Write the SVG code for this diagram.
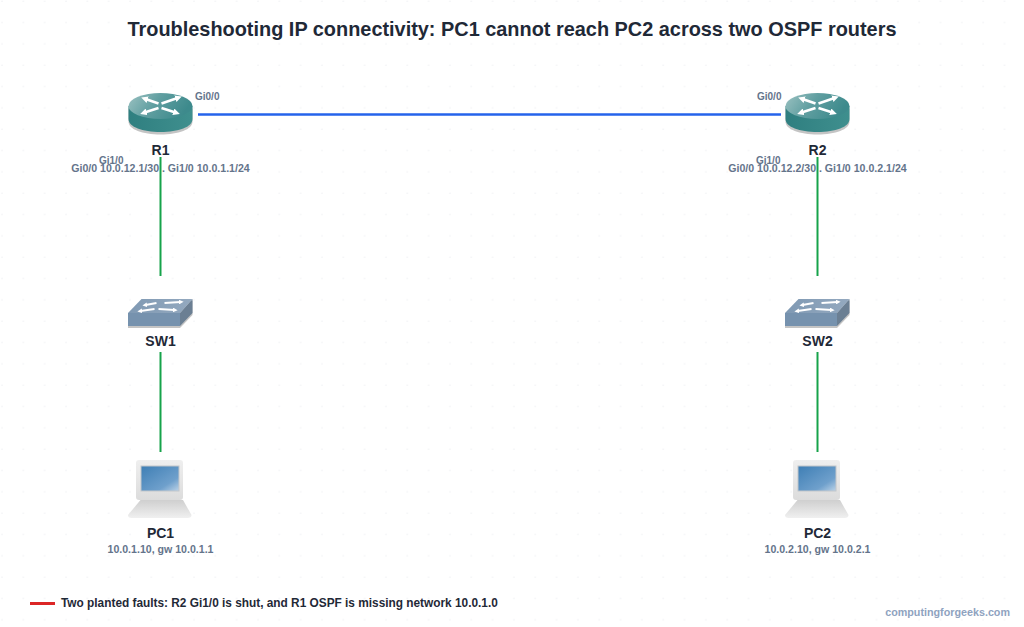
<svg xmlns="http://www.w3.org/2000/svg" width="1024" height="627" viewBox="0 0 1024 627">
<style>
text{font-family:"Liberation Sans",Arial,sans-serif}
.t{font-size:19.9px;font-weight:700;fill:#1f2937}
.n{font-size:14px;font-weight:700;fill:#1f2937;text-anchor:middle}
.s{font-size:10.6px;font-weight:700;fill:#64748b;text-anchor:middle}
.p{font-size:10px;font-weight:700;fill:#64748b}
.l{font-size:11.85px;font-weight:700;fill:#1f2937}
.blue{stroke:#2563eb;stroke-width:2.5;fill:none}
.green{stroke:#16a34a;stroke-width:2;fill:none}
</style>
<defs>
<pattern id="dots" width="21.33" height="21.33" patternUnits="userSpaceOnUse"><circle cx="2" cy="1.3" r="0.7" fill="#eef0f2"/></pattern>
<linearGradient id="rtop" x1="0" y1="0" x2="1" y2="0.3"><stop offset="0" stop-color="#9cc2c2"/><stop offset="0.5" stop-color="#5f9ea0"/><stop offset="1" stop-color="#3d8a8c"/></linearGradient>
<linearGradient id="rside" x1="0" y1="0" x2="1" y2="0"><stop offset="0" stop-color="#2f7f80"/><stop offset="1" stop-color="#3f8f8e"/></linearGradient>
<linearGradient id="swtop" x1="0" y1="0" x2="1" y2="0"><stop offset="0" stop-color="#7f99b3"/><stop offset="1" stop-color="#94a9bf"/></linearGradient>
<linearGradient id="scr" x1="0" y1="0" x2="1" y2="1"><stop offset="0" stop-color="#3f7fb5"/><stop offset="0.72" stop-color="#6fa0cc"/><stop offset="1" stop-color="#b8d0e6"/></linearGradient>
<linearGradient id="mon" x1="0" y1="0" x2="0" y2="1"><stop offset="0" stop-color="#efefef"/><stop offset="1" stop-color="#dcdcdc"/></linearGradient>
<linearGradient id="base" x1="0" y1="0" x2="0" y2="1"><stop offset="0" stop-color="#cfcfcf"/><stop offset="1" stop-color="#f0f0f0"/></linearGradient>
<marker id="wh" viewBox="0 0 6 6" refX="2" refY="3" markerWidth="2.6" markerHeight="2.6" orient="auto"><path d="M0 0L6 3L0 6Z" fill="#fff"/></marker>
<g id="router">
<path d="M-32 -9V4C-32 12 -18 17 0 17S32 12 32 4V-9Z" fill="#c4c4c4" transform="translate(0,2.500)"/>
<path d="M-32 -9V4C-32 12 -18 17 0 17S32 12 32 4V-9Z" fill="url(#rside)"/>
<ellipse cx="0" cy="-9" rx="32" ry="13" fill="url(#rtop)"/>
<g stroke="#fff" stroke-width="2.600" fill="none" marker-end="url(#wh)">
<path d="M-2 -11.500L-15 -16"/><path d="M1 -11.500L17 -17"/><path d="M-2 -7L-16 -2.500"/><path d="M1 -7L15 -2.500"/>
</g>
</g>
<g id="switch">
<path d="M-32.500 -6L-19 -20H32V-6L19.500 7H-32.500Z" fill="#c4c4c4" transform="translate(0,2)"/>
<path d="M-32.500 -6H19.500V7H-32.500Z" fill="#7692ae"/>
<path d="M19.500 -6L32 -20V-6L19.500 7Z" fill="#6b7f93"/>
<path d="M-32.500 -6L-19 -20H32L19.500 -6Z" fill="url(#swtop)"/>
<g stroke="#fff" stroke-width="1.800" fill="none" marker-end="url(#wh)">
<path d="M-4 -16L-15 -14"/><path d="M4 -16L20 -17"/><path d="M-6 -10L-20 -8"/><path d="M-2 -10L14 -9"/>
</g>
</g>
<g id="pc">
<rect x="-24.500" y="-31" width="47" height="40" rx="3" fill="url(#mon)"/>
<rect x="-20" y="-25.500" width="39" height="26" fill="#c2c6ca"/>
<rect x="-19" y="-24.500" width="37" height="24" fill="url(#scr)"/>
<path d="M-20 9H22.500L31 24Q31 27 27 27H-29Q-32.500 27 -32.500 24Z" fill="url(#base)"/>
</g>
</defs>
<rect width="1024" height="627" fill="#ffffff"/>
<rect width="1024" height="627" fill="url(#dots)"/>
<text class="t" x="512" y="36" text-anchor="middle">Troubleshooting IP connectivity: PC1 cannot reach PC2 across two OSPF routers</text>
<g id="connectors">
<line class="blue" x1="198" y1="114.500" x2="781" y2="114.500"/>
<line class="green" x1="160.500" y1="157" x2="160.500" y2="276"/>
<line class="green" x1="160.500" y1="352" x2="160.500" y2="452"/>
<line class="green" x1="817.500" y1="157" x2="817.500" y2="276"/>
<line class="green" x1="817.500" y1="352" x2="817.500" y2="452"/>
</g>
<g id="R1"><use href="#router" x="160.500" y="115"/><text class="n" x="160.500" y="155">R1</text><text class="s" x="160.500" y="172">Gi0/0 10.0.12.1/30 . Gi1/0 10.0.1.1/24</text></g>
<g id="R2"><use href="#router" x="817.500" y="115"/><text class="n" x="817.500" y="155">R2</text><text class="s" x="817.500" y="172">Gi0/0 10.0.12.2/30 . Gi1/0 10.0.2.1/24</text></g>
<g id="SW1"><use href="#switch" x="160.500" y="319"/><text class="n" x="160.500" y="346">SW1</text></g>
<g id="SW2"><use href="#switch" x="817.500" y="319"/><text class="n" x="817.500" y="346">SW2</text></g>
<g id="PC1"><use href="#pc" x="160.500" y="491"/><text class="n" x="160.500" y="538">PC1</text><text class="s" x="160.500" y="553">10.0.1.10, gw 10.0.1.1</text></g>
<g id="PC2"><use href="#pc" x="817.500" y="491"/><text class="n" x="817.500" y="538">PC2</text><text class="s" x="817.500" y="553">10.0.2.10, gw 10.0.2.1</text></g>
<g id="port-labels">
<text class="p" x="195" y="100">Gi0/0</text>
<text class="p" x="757" y="100">Gi0/0</text>
<text class="p" x="99" y="164">Gi1/0</text>
<text class="p" x="756" y="164">Gi1/0</text>
</g>
<g id="legend">
<line x1="30" y1="603.500" x2="55" y2="603.500" stroke="#dc2626" stroke-width="3"/>
<text class="l" x="61" y="607">Two planted faults: R2 Gi1/0 is shut, and R1 OSPF is missing network 10.0.1.0</text>
</g>
<text x="1010" y="616" text-anchor="end" font-size="10.75" font-weight="700" fill="#8fa3bf">computingforgeeks.com</text>
</svg>
